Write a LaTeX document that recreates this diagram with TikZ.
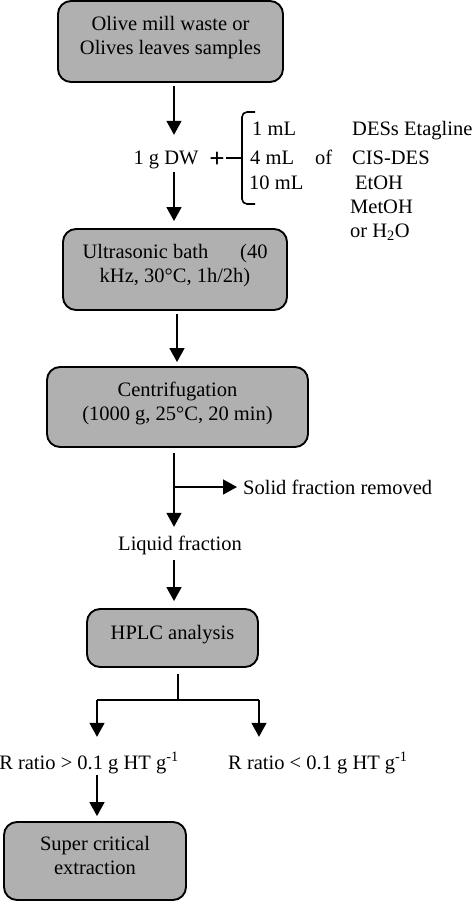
\documentclass[tikz,border=0pt]{standalone}
\usepackage{fontspec}
\setmainfont{Liberation Serif}
\usetikzlibrary{arrows.meta}

\tikzset{
  box/.style={draw, line width=1.9pt, rounded corners=13pt, fill=black!31, align=center, text depth=12pt},
  txt/.style={inner sep=0pt, text height=14pt, text depth=5pt},
  arr/.style={line width=1.6pt, -{Triangle[width=15pt,length=14pt]}},
  ln/.style={line width=1.6pt},
}

\begin{document}
\begin{tikzpicture}[x=1pt,y=-1pt, font=\fontsize{20.5}{24}\selectfont]
		\useasboundingbox (0,0) rectangle (474,902);
		% main column
		\node[box, minimum width=225pt, minimum height=81pt] (src) at (170.5,41.5) {Olive mill waste or\\Olives leaves samples};
		\node[txt, anchor=base] (dw) at (166,164) {1 g DW};
		\node[inner sep=0pt, font=\fontsize{27}{27}\selectfont\bfseries] (plus) at (217,160) {+};
		\node[box, minimum width=224pt, minimum height=81pt] (ultra) at (175,269.5) {\makebox[185pt]{Ultrasonic bath\hfill(40}\\kHz, 30°C, 1h/2h)};
		\node[box, minimum width=261pt, minimum height=80pt] (centri) at (177.5,407) {Centrifugation\\(1000 g, 25°C, 20 min)};
		\node[txt, anchor=base west] (solid) at (243,494) {Solid fraction removed};
		\node[txt, anchor=base] (liquid) at (180,550) {Liquid fraction};
		\node[box, minimum width=171pt, minimum height=58pt] (hplc) at (172.5,638) {HPLC analysis};
		\node[txt, anchor=base] (hi) at (89,769) {R ratio > 0.1 g HT g\textsuperscript{-1}};
		\node[txt, anchor=base west] (lo) at (228,769) {R ratio < 0.1 g HT g\textsuperscript{-1}};
		\node[box, minimum width=182pt, minimum height=78pt] (scf) at (95,861) {Super critical\\extraction};
		% solvents
		\node[txt, anchor=base west] (v1) at (252,135) {1 mL};
		\node[txt, anchor=base west] (v2) at (250,164) {4 mL};
		\node[txt, anchor=base west] (v3) at (249,189) {10 mL};
		\node[txt, anchor=base west] (of) at (315,164) {of};
		\node[txt, anchor=base west] (s1) at (352,135) {DESs Etagline};
		\node[txt, anchor=base west] (s2) at (352,164) {CIS-DES};
		\node[txt, anchor=base west] (s3) at (355,189) {EtOH};
		\node[txt, anchor=base west] (s4) at (350,213) {MetOH};
		\node[txt, anchor=base west] (s5) at (350,237) {or H\textsubscript{2}O};
		\draw[ln, rounded corners=5pt] (255,112) -- (242,112) -- (242,204) -- (255,204);
		\draw[ln] (226,158) -- (242,158);
		% connectors
		\coordinate (col) at (174,0);
		\coordinate (col2) at (177,0);
		\coordinate (br) at (174,487);
		\coordinate (jn) at (178,700);
		\coordinate (jl) at (97,700);
		\coordinate (jr) at (259,700);
		\draw[arr, shorten <=3pt, shorten >=15pt] (src.south -| col) -- (dw.north -| col);
		\draw[arr, shorten <=3pt, shorten >=7pt] (dw.south -| col) -- (ultra.north -| col);
		\draw[arr, shorten <=3pt, shorten >=4pt] (ultra.south -| col2) -- (centri.north -| col2);
		\draw[arr, shorten <=5pt, shorten >=9pt] (centri.south -| col) -- (liquid.north -| col);
		\draw[arr, shorten >=6pt] (br) -- (br -| solid.west);
		\draw[arr, shorten <=5pt, shorten >=7pt] (liquid.south -| col) -- (hplc.north -| col);
		\draw[ln, shorten <=6pt] (hplc.south -| jn) -- (jn);
		\draw[ln] (jl) -- (jr);
		\draw[arr, shorten >=18pt] (jl) -- (jl |- hi.north);
		\draw[arr, shorten >=18pt] (jr) -- (jr |- lo.north);
		\draw[arr, shorten <=1pt, shorten >=5pt] (hi.south -| jl) -- (scf.north -| jl);
\end{tikzpicture}
\end{document}
